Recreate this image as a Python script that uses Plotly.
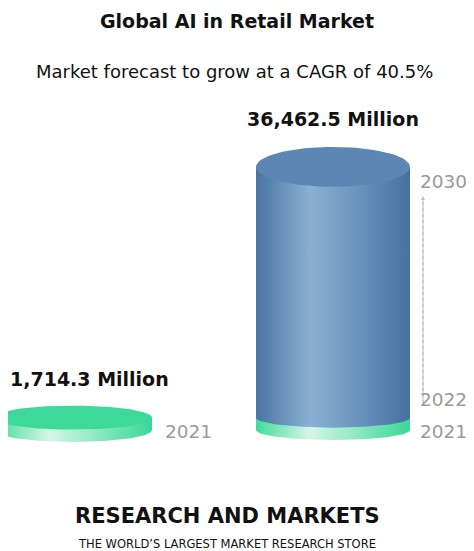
import numpy as np
import plotly.graph_objects as go

# data
years = ["2021", "2030"]
values = [1714.3, 36462.5]
value_labels = ["1,714.3 Million", "36,462.5 Million"]
title = "Global AI in Retail Market"
subtitle = "Market forecast to grow at a CAGR of 40.5%"

W, H = 474, 551
dx = 8                     # page margin offset
base_px = 422              # pixel row of the cylinder base
per_px = 138.6             # million per pixel
y_lo, y_hi = -(H - base_px) * per_px, base_px * per_px

def py(p):
    # pixel row -> value units (for text placement only)
    return (base_px - p) * per_px

t = np.linspace(0, np.pi, 60)

def body(xc, rx, ry, v0, v1):
    # side wall: from level v0 up to v1 with curved bottom edge
    xs = list(xc + rx * np.cos(t)) + [xc - rx, xc + rx, xc + rx]
    ys = list(v0 - ry * np.sin(t)) + [v1, v1, v0]
    return xs, ys

def ellipse(xc, rx, ry, v):
    tt = np.linspace(0, 2 * np.pi, 100)
    return xc + rx * np.cos(tt), v + ry * np.sin(tt)

blue_grad = dict(type="horizontal", colorscale=[[0, "#4873a3"], [0.35, "#8cb0d2"], [0.7, "#6690bb"], [1, "#46709f"]])
green_grad = dict(type="horizontal", colorscale=[[0, "#3fdc9c"], [0.35, "#d6f5e6"], [1, "#3ad896"]])

fig = go.Figure()

def add_poly(xs, ys, grad=None, color=None):
    kw = dict(fillgradient=grad) if grad else dict(fillcolor=color)
    fig.add_trace(go.Scatter(x=xs, y=ys, fill="toself", mode="lines",
                             line=dict(width=0), hoverinfo="skip", showlegend=False, **kw))

# small disk (2021)
sx, srx, sry = 73 - dx, 79, 12 * per_px
xs, ys = body(sx, srx, sry, 0, values[0])
add_poly(xs, ys, green_grad)
xs, ys = ellipse(sx, srx, sry, values[0])
add_poly(xs, ys, color="#3dd998")

# big cylinder (2030) with green base band
bx, brx, bry = 333 - dx, 77, 20 * per_px
bry_low = 10 * per_px
xs, ys = body(bx, brx, bry_low, 0, values[0])
add_poly(xs, ys, green_grad)
xs, ys = body(bx, brx, bry_low, values[0], values[1])
add_poly(xs, ys, blue_grad)
xs, ys = ellipse(bx, brx, bry, values[1])
add_poly(xs, ys, color="#5c87b4")

# dashed growth arrow
ax_x = 423 - dx
fig.add_annotation(x=ax_x, y=py(188), ax=ax_x, ay=py(395), xref="x", yref="y", axref="x", ayref="y",
                   showarrow=True, arrowhead=2, arrowsize=0.8, arrowwidth=1, arrowcolor="#c0c0c0", text="")
fig.add_trace(go.Scatter(x=[ax_x, ax_x], y=[py(395), py(191)], mode="lines",
                         line=dict(color="#b0b0b0", width=1, dash="dot"), hoverinfo="skip", showlegend=False))

grey = dict(family="DejaVu Sans", size=18.5, color="#9a9a9a")
for txt, x, p in [("2030", 418, 173), ("2022", 418, 391), ("2021", 418, 423), (years[0], 163, 423)]:
    fig.add_annotation(x=x - dx, y=py(p), text=txt, showarrow=False, font=grey, xanchor="left")

bold = dict(family="DejaVu Sans", size=19, color="#111111")
fig.add_annotation(x=bx, y=py(111), text="<b>%s</b>" % value_labels[1], showarrow=False, font=bold)
fig.add_annotation(x=0, y=py(371), text="<b>%s</b>" % value_labels[0], showarrow=False, font=bold, xanchor="left")

fig.add_annotation(x=237 - dx, y=py(13), text="<b>%s</b>" % title, showarrow=False,
                   font=dict(family="DejaVu Sans", size=19, color="#111111"))
fig.add_annotation(x=234 - dx, y=py(63), text=subtitle, showarrow=False,
                   font=dict(family="DejaVu Sans", size=18, color="#111111"))
fig.add_annotation(x=227 - dx, y=py(508), text="<b>RESEARCH AND MARKETS</b>", showarrow=False,
                   font=dict(family="DejaVu Sans", size=21, color="#111111"))
fig.add_annotation(x=227 - dx, y=py(536), text="THE WORLD’S LARGEST MARKET RESEARCH STORE", showarrow=False,
                   font=dict(family="DejaVu Sans", size=11.5, color="#111111"))

fig.update_layout(width=W, height=H, margin=dict(l=0, r=0, t=0, b=0),
                  paper_bgcolor="white", plot_bgcolor="white",
                  xaxis=dict(range=[0, W], visible=False, fixedrange=True),
                  yaxis=dict(range=[y_lo, y_hi], visible=False, fixedrange=True))
fig.write_html("out.html")
